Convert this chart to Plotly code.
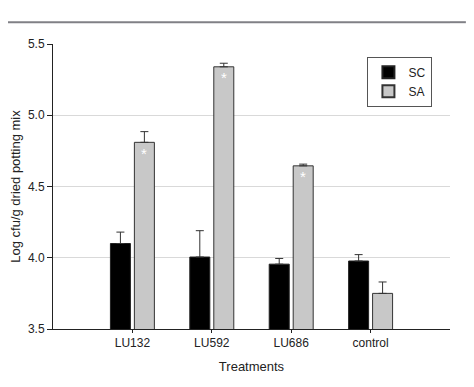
import plotly.graph_objects as go

categories = ["LU132", "LU592", "LU686", "control"]
sc_values = [4.10, 4.005, 3.955, 3.977]
sc_errors = [0.08, 0.185, 0.04, 0.045]
sa_values = [4.81, 5.34, 4.645, 3.75]
sa_errors = [0.075, 0.025, 0.012, 0.08]
sa_stars = ["*", "*", "*", ""]
y_ticks = [3.5, 4.0, 4.5, 5.0, 5.5]

xpos = list(range(len(categories)))
font = "Liberation Sans, Arial, sans-serif"

fig = go.Figure()
fig.add_trace(go.Bar(
    x=xpos, y=sc_values, name="SC", width=0.252, offset=-0.277,
    marker=dict(color="black", line=dict(color="#222", width=1)),
    error_y=dict(type="data", array=sc_errors, arrayminus=[0]*4, symmetric=False,
                 color="#333", thickness=1, width=4),
))
fig.add_trace(go.Bar(
    x=xpos, y=sa_values, name="SA", width=0.252, offset=0.025,
    marker=dict(color="#c8c8c8", line=dict(color="#333", width=1)),
    error_y=dict(type="data", array=sa_errors, arrayminus=[0]*4, symmetric=False,
                 color="#333", thickness=1, width=4),
))

fig.update_layout(
    width=466, height=379,
    margin=dict(l=45, r=24, t=36, b=58, autoexpand=False),
    paper_bgcolor="white", plot_bgcolor="white",
    font=dict(family=font, size=12, color="#222"),
    barmode="overlay",
    showlegend=True,
    legend=dict(x=0.792, y=0.955, xanchor="left", yanchor="top",
                bordercolor="#555", borderwidth=1, bgcolor="white",
                font=dict(size=12, family=font), tracegroupgap=0,
                itemsizing="constant"),
    xaxis=dict(range=[-1, 4], tickvals=xpos, ticktext=categories, automargin=False,
               showgrid=False, zeroline=False, showline=True, linecolor="#222", linewidth=1,
               ticks="outside", ticklen=3, tickcolor="#222",
               title=dict(text="Treatments", font=dict(size=13), standoff=12),
               tickfont=dict(size=12)),
    yaxis=dict(range=[3.5, 5.5], tickvals=y_ticks, ticktext=["3.5", "4.0", "4.5", "5.0", "5.5"],
               automargin=False,
               showgrid=True, gridcolor="#d9d9d9", gridwidth=1, zeroline=False,
               showline=True, linecolor="#222", linewidth=1,
               ticks="outside", ticklen=5, tickcolor="#222",
               title=dict(text="Log cfu/g dried potting mix", font=dict(size=13), standoff=8),
               tickfont=dict(size=12)),
)

for i, s in enumerate(sa_stars):
    if s:
        fig.add_annotation(x=xpos[i] + 0.151, y=sa_values[i], text=s, showarrow=False,
                           yshift=-11, font=dict(color="white", size=15, family=font))

for a, b in [(0, 1), (-0.12, 0), (1, 1.04)]:
    fig.add_shape(type="rect", xref="paper", yref="paper", x0=a, x1=b, y0=1.073, y1=1.08,
                  fillcolor="rgb(128,128,134)", line=dict(width=0))

fig.write_html("out.html")
